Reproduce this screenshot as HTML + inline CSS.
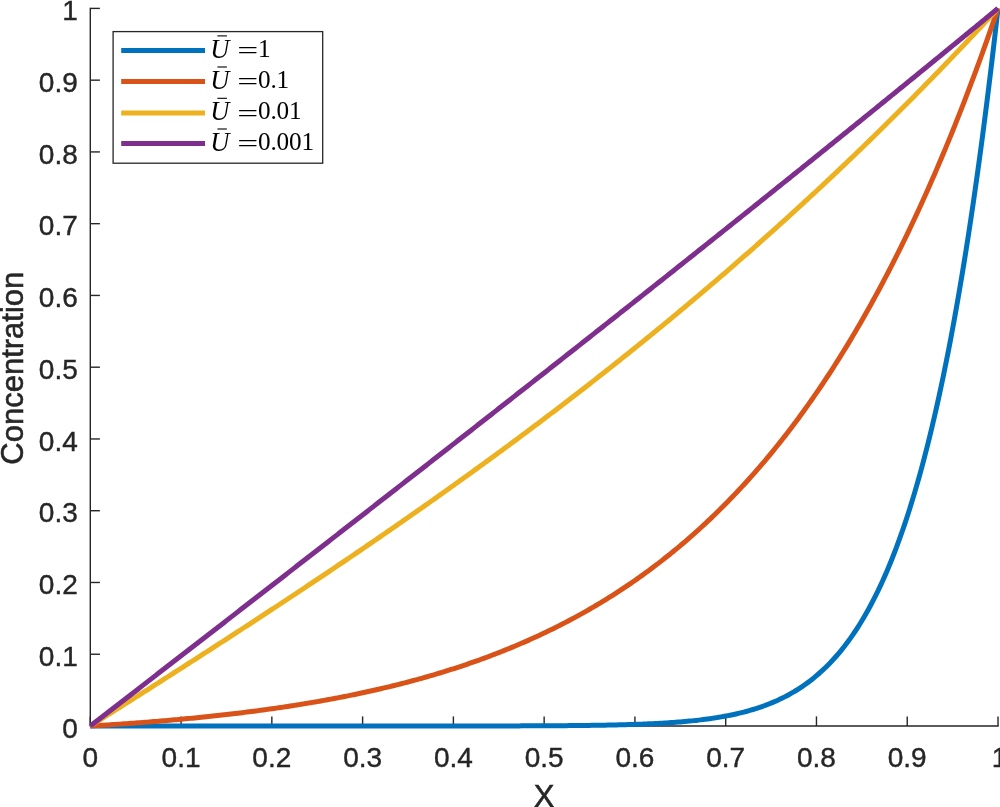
<!DOCTYPE html>
<html lang="en"><head><meta charset="utf-8"><title>Concentration vs X</title>
<style>html,body{margin:0;padding:0;background:#fff}svg{display:block}</style></head>
<body>
<svg width="1000" height="807" viewBox="0 0 1000 807">
<rect width="1000" height="807" fill="#fff"/>
<g stroke="#262626" stroke-width="1.4" fill="none">
<path d="M90.30 7.70V726.00H998.70"/>
<path d="M90.30 726.00V716.40"/>
<path d="M90.30 726.00H99.90"/>
<path d="M181.07 726.00V716.40"/>
<path d="M90.30 654.24H99.90"/>
<path d="M271.84 726.00V716.40"/>
<path d="M90.30 582.48H99.90"/>
<path d="M362.61 726.00V716.40"/>
<path d="M90.30 510.72H99.90"/>
<path d="M453.38 726.00V716.40"/>
<path d="M90.30 438.96H99.90"/>
<path d="M544.15 726.00V716.40"/>
<path d="M90.30 367.20H99.90"/>
<path d="M634.92 726.00V716.40"/>
<path d="M90.30 295.44H99.90"/>
<path d="M725.69 726.00V716.40"/>
<path d="M90.30 223.68H99.90"/>
<path d="M816.46 726.00V716.40"/>
<path d="M90.30 151.92H99.90"/>
<path d="M907.23 726.00V716.40"/>
<path d="M90.30 80.16H99.90"/>
<path d="M998.00 726.00V716.40"/>
<path d="M90.30 8.40H99.90"/>
</g>
<g font-family="'Liberation Sans', sans-serif" font-size="28" fill="#262626" stroke="#262626" stroke-width="0.4">
<text x="90.30" y="767.00" text-anchor="middle">0</text>
<text x="181.07" y="767.00" text-anchor="middle">0.1</text>
<text x="271.84" y="767.00" text-anchor="middle">0.2</text>
<text x="362.61" y="767.00" text-anchor="middle">0.3</text>
<text x="453.38" y="767.00" text-anchor="middle">0.4</text>
<text x="544.15" y="767.00" text-anchor="middle">0.5</text>
<text x="634.92" y="767.00" text-anchor="middle">0.6</text>
<text x="725.69" y="767.00" text-anchor="middle">0.7</text>
<text x="816.46" y="767.00" text-anchor="middle">0.8</text>
<text x="907.23" y="767.00" text-anchor="middle">0.9</text>
<text x="999.50" y="767.00" text-anchor="middle">1</text>
<text x="77.80" y="737.60" text-anchor="end">0</text>
<text x="77.80" y="665.84" text-anchor="end">0.1</text>
<text x="77.80" y="594.08" text-anchor="end">0.2</text>
<text x="77.80" y="522.32" text-anchor="end">0.3</text>
<text x="77.80" y="450.56" text-anchor="end">0.4</text>
<text x="77.80" y="378.80" text-anchor="end">0.5</text>
<text x="77.80" y="307.04" text-anchor="end">0.6</text>
<text x="77.80" y="235.28" text-anchor="end">0.7</text>
<text x="77.80" y="163.52" text-anchor="end">0.8</text>
<text x="77.80" y="91.76" text-anchor="end">0.9</text>
<text x="77.80" y="20.00" text-anchor="end">1</text>
</g>
<g font-family="'Liberation Sans', sans-serif" font-size="31" fill="#262626" stroke="#262626" stroke-width="0.55">
<text x="544.00" y="807.00" text-anchor="middle">X</text>
<text transform="translate(22.9 368.2) rotate(-90)" text-anchor="middle">Concentration</text>
</g>
<polyline points="90.30,726.00 92.57,726.00 94.84,726.00 97.11,726.00 99.38,726.00 101.65,726.00 103.92,726.00 106.18,726.00 108.45,726.00 110.72,726.00 112.99,726.00 115.26,726.00 117.53,726.00 119.80,726.00 122.07,726.00 124.34,726.00 126.61,726.00 128.88,726.00 131.15,726.00 133.42,726.00 135.69,726.00 137.95,726.00 140.22,726.00 142.49,726.00 144.76,726.00 147.03,726.00 149.30,726.00 151.57,726.00 153.84,726.00 156.11,726.00 158.38,726.00 160.65,726.00 162.92,726.00 165.19,726.00 167.45,726.00 169.72,726.00 171.99,726.00 174.26,726.00 176.53,726.00 178.80,726.00 181.07,726.00 183.34,726.00 185.61,726.00 187.88,726.00 190.15,726.00 192.42,726.00 194.69,726.00 196.95,726.00 199.22,726.00 201.49,726.00 203.76,726.00 206.03,726.00 208.30,726.00 210.57,726.00 212.84,726.00 215.11,726.00 217.38,726.00 219.65,726.00 221.92,726.00 224.19,726.00 226.45,726.00 228.72,726.00 230.99,726.00 233.26,726.00 235.53,726.00 237.80,726.00 240.07,726.00 242.34,726.00 244.61,726.00 246.88,726.00 249.15,726.00 251.42,726.00 253.69,726.00 255.96,726.00 258.22,726.00 260.49,726.00 262.76,726.00 265.03,726.00 267.30,726.00 269.57,726.00 271.84,726.00 274.11,726.00 276.38,726.00 278.65,726.00 280.92,726.00 283.19,726.00 285.46,726.00 287.72,726.00 289.99,726.00 292.26,726.00 294.53,726.00 296.80,726.00 299.07,726.00 301.34,726.00 303.61,726.00 305.88,726.00 308.15,726.00 310.42,726.00 312.69,726.00 314.96,726.00 317.23,726.00 319.49,726.00 321.76,726.00 324.03,726.00 326.30,726.00 328.57,726.00 330.84,726.00 333.11,726.00 335.38,726.00 337.65,726.00 339.92,726.00 342.19,726.00 344.46,726.00 346.73,726.00 348.99,726.00 351.26,726.00 353.53,726.00 355.80,726.00 358.07,726.00 360.34,726.00 362.61,726.00 364.88,726.00 367.15,726.00 369.42,726.00 371.69,726.00 373.96,726.00 376.23,726.00 378.49,726.00 380.76,726.00 383.03,726.00 385.30,726.00 387.57,726.00 389.84,726.00 392.11,726.00 394.38,725.99 396.65,725.99 398.92,725.99 401.19,725.99 403.46,725.99 405.73,725.99 408.00,725.99 410.26,725.99 412.53,725.99 414.80,725.99 417.07,725.99 419.34,725.99 421.61,725.99 423.88,725.99 426.15,725.99 428.42,725.99 430.69,725.99 432.96,725.99 435.23,725.99 437.50,725.98 439.76,725.98 442.03,725.98 444.30,725.98 446.57,725.98 448.84,725.98 451.11,725.98 453.38,725.98 455.65,725.98 457.92,725.97 460.19,725.97 462.46,725.97 464.73,725.97 467.00,725.97 469.26,725.96 471.53,725.96 473.80,725.96 476.07,725.96 478.34,725.96 480.61,725.95 482.88,725.95 485.15,725.95 487.42,725.94 489.69,725.94 491.96,725.94 494.23,725.93 496.50,725.93 498.77,725.93 501.03,725.92 503.30,725.92 505.57,725.91 507.84,725.91 510.11,725.90 512.38,725.90 514.65,725.89 516.92,725.89 519.19,725.88 521.46,725.87 523.73,725.87 526.00,725.86 528.27,725.85 530.53,725.84 532.80,725.84 535.07,725.83 537.34,725.82 539.61,725.81 541.88,725.80 544.15,725.79 546.42,725.77 548.69,725.76 550.96,725.75 553.23,725.74 555.50,725.72 557.77,725.71 560.03,725.69 562.30,725.67 564.57,725.66 566.84,725.64 569.11,725.62 571.38,725.60 573.65,725.58 575.92,725.56 578.19,725.53 580.46,725.51 582.73,725.48 585.00,725.46 587.27,725.43 589.54,725.40 591.80,725.37 594.07,725.33 596.34,725.30 598.61,725.26 600.88,725.23 603.15,725.19 605.42,725.15 607.69,725.10 609.96,725.06 612.23,725.01 614.50,724.96 616.77,724.91 619.04,724.85 621.30,724.80 623.57,724.74 625.84,724.67 628.11,724.61 630.38,724.54 632.65,724.47 634.92,724.39 637.19,724.31 639.46,724.23 641.73,724.14 644.00,724.05 646.27,723.96 648.54,723.86 650.80,723.76 653.07,723.65 655.34,723.53 657.61,723.42 659.88,723.29 662.15,723.16 664.42,723.03 666.69,722.89 668.96,722.74 671.23,722.59 673.50,722.43 675.77,722.26 678.04,722.09 680.30,721.90 682.57,721.71 684.84,721.52 687.11,721.31 689.38,721.09 691.65,720.87 693.92,720.63 696.19,720.39 698.46,720.13 700.73,719.86 703.00,719.59 705.27,719.30 707.54,718.99 709.81,718.68 712.07,718.35 714.34,718.01 716.61,717.65 718.88,717.28 721.15,716.90 723.42,716.49 725.69,716.08 727.96,715.64 730.23,715.19 732.50,714.72 734.77,714.22 737.04,713.71 739.31,713.18 741.57,712.63 743.84,712.05 746.11,711.46 748.38,710.83 750.65,710.19 752.92,709.52 755.19,708.82 757.46,708.09 759.73,707.34 762.00,706.55 764.27,705.74 766.54,704.89 768.81,704.02 771.08,703.11 773.34,702.16 775.61,701.18 777.88,700.16 780.15,699.10 782.42,698.00 784.69,696.86 786.96,695.68 789.23,694.45 791.50,693.18 793.77,691.86 796.04,690.49 798.31,689.07 800.58,687.60 802.84,686.08 805.11,684.50 807.38,682.86 809.65,681.17 811.92,679.41 814.19,677.59 816.46,675.70 818.73,673.75 821.00,671.73 823.27,669.64 825.54,667.48 827.81,665.24 830.08,662.92 832.34,660.52 834.61,658.04 836.88,655.47 839.15,652.81 841.42,650.07 843.69,647.23 845.96,644.29 848.23,641.25 850.50,638.12 852.77,634.87 855.04,631.52 857.31,628.06 859.58,624.49 861.85,620.79 864.11,616.98 866.38,613.04 868.65,608.98 870.92,604.78 873.19,600.44 875.46,595.97 877.73,591.36 880.00,586.59 882.27,581.68 884.54,576.61 886.81,571.39 889.08,566.00 891.35,560.44 893.61,554.71 895.88,548.80 898.15,542.72 900.42,536.44 902.69,529.98 904.96,523.32 907.23,516.46 909.50,509.39 911.77,502.12 914.04,494.63 916.31,486.91 918.58,478.97 920.85,470.80 923.11,462.39 925.38,453.73 927.65,444.83 929.92,435.66 932.19,426.24 934.46,416.55 936.73,406.59 939.00,396.34 941.27,385.81 943.54,374.98 945.81,363.86 948.08,352.43 950.35,340.68 952.62,328.61 954.88,316.22 957.15,303.49 959.42,290.42 961.69,277.00 963.96,263.22 966.23,249.08 968.50,234.56 970.77,219.67 973.04,204.39 975.31,188.71 977.58,172.63 979.85,156.14 982.12,139.23 984.38,121.89 986.65,104.11 988.92,85.89 991.19,67.22 993.46,48.09 995.73,28.48 998.00,8.40" fill="none" stroke="#0072BD" stroke-width="5" stroke-linejoin="round"/>
<polyline points="90.30,726.00 92.57,725.87 94.84,725.73 97.11,725.59 99.38,725.45 101.65,725.31 103.92,725.17 106.18,725.02 108.45,724.88 110.72,724.73 112.99,724.58 115.26,724.43 117.53,724.28 119.80,724.12 122.07,723.97 124.34,723.81 126.61,723.65 128.88,723.49 131.15,723.33 133.42,723.16 135.69,722.99 137.95,722.82 140.22,722.65 142.49,722.48 144.76,722.31 147.03,722.13 149.30,721.95 151.57,721.77 153.84,721.59 156.11,721.40 158.38,721.22 160.65,721.03 162.92,720.84 165.19,720.65 167.45,720.45 169.72,720.25 171.99,720.05 174.26,719.85 176.53,719.65 178.80,719.44 181.07,719.23 183.34,719.02 185.61,718.81 187.88,718.60 190.15,718.38 192.42,718.16 194.69,717.94 196.95,717.71 199.22,717.48 201.49,717.25 203.76,717.02 206.03,716.79 208.30,716.55 210.57,716.31 212.84,716.07 215.11,715.82 217.38,715.57 219.65,715.32 221.92,715.07 224.19,714.81 226.45,714.55 228.72,714.29 230.99,714.03 233.26,713.76 235.53,713.49 237.80,713.22 240.07,712.94 242.34,712.66 244.61,712.38 246.88,712.10 249.15,711.81 251.42,711.52 253.69,711.22 255.96,710.93 258.22,710.63 260.49,710.32 262.76,710.02 265.03,709.71 267.30,709.39 269.57,709.08 271.84,708.76 274.11,708.43 276.38,708.11 278.65,707.78 280.92,707.44 283.19,707.10 285.46,706.76 287.72,706.42 289.99,706.07 292.26,705.72 294.53,705.36 296.80,705.00 299.07,704.64 301.34,704.27 303.61,703.90 305.88,703.53 308.15,703.15 310.42,702.77 312.69,702.38 314.96,701.99 317.23,701.60 319.49,701.20 321.76,700.79 324.03,700.39 326.30,699.98 328.57,699.56 330.84,699.14 333.11,698.72 335.38,698.29 337.65,697.86 339.92,697.42 342.19,696.98 344.46,696.53 346.73,696.08 348.99,695.62 351.26,695.16 353.53,694.70 355.80,694.23 358.07,693.75 360.34,693.27 362.61,692.79 364.88,692.30 367.15,691.80 369.42,691.30 371.69,690.80 373.96,690.29 376.23,689.77 378.49,689.25 380.76,688.73 383.03,688.19 385.30,687.66 387.57,687.11 389.84,686.57 392.11,686.01 394.38,685.46 396.65,684.89 398.92,684.32 401.19,683.74 403.46,683.16 405.73,682.57 408.00,681.98 410.26,681.38 412.53,680.77 414.80,680.16 417.07,679.54 419.34,678.92 421.61,678.29 423.88,677.65 426.15,677.01 428.42,676.36 430.69,675.70 432.96,675.04 435.23,674.37 437.50,673.69 439.76,673.01 442.03,672.32 444.30,671.62 446.57,670.92 448.84,670.21 451.11,669.49 453.38,668.77 455.65,668.03 457.92,667.29 460.19,666.55 462.46,665.79 464.73,665.03 467.00,664.26 469.26,663.48 471.53,662.70 473.80,661.90 476.07,661.10 478.34,660.29 480.61,659.48 482.88,658.65 485.15,657.82 487.42,656.98 489.69,656.13 491.96,655.27 494.23,654.41 496.50,653.53 498.77,652.65 501.03,651.75 503.30,650.85 505.57,649.94 507.84,649.03 510.11,648.10 512.38,647.16 514.65,646.21 516.92,645.26 519.19,644.29 521.46,643.32 523.73,642.34 526.00,641.34 528.27,640.34 530.53,639.33 532.80,638.30 535.07,637.27 537.34,636.23 539.61,635.18 541.88,634.11 544.15,633.04 546.42,631.96 548.69,630.86 550.96,629.76 553.23,628.64 555.50,627.51 557.77,626.38 560.03,625.23 562.30,624.07 564.57,622.90 566.84,621.71 569.11,620.52 571.38,619.32 573.65,618.10 575.92,616.87 578.19,615.63 580.46,614.38 582.73,613.11 585.00,611.84 587.27,610.55 589.54,609.25 591.80,607.93 594.07,606.61 596.34,605.27 598.61,603.92 600.88,602.55 603.15,601.17 605.42,599.78 607.69,598.38 609.96,596.96 612.23,595.53 614.50,594.08 616.77,592.63 619.04,591.15 621.30,589.67 623.57,588.17 625.84,586.65 628.11,585.12 630.38,583.58 632.65,582.02 634.92,580.45 637.19,578.86 639.46,577.25 641.73,575.63 644.00,574.00 646.27,572.35 648.54,570.69 650.80,569.01 653.07,567.31 655.34,565.60 657.61,563.87 659.88,562.12 662.15,560.36 664.42,558.58 666.69,556.79 668.96,554.98 671.23,553.15 673.50,551.30 675.77,549.44 678.04,547.56 680.30,545.66 682.57,543.74 684.84,541.81 687.11,539.86 689.38,537.89 691.65,535.90 693.92,533.89 696.19,531.87 698.46,529.82 700.73,527.76 703.00,525.67 705.27,523.57 707.54,521.45 709.81,519.31 712.07,517.14 714.34,514.96 716.61,512.76 718.88,510.54 721.15,508.29 723.42,506.03 725.69,503.75 727.96,501.44 730.23,499.11 732.50,496.76 734.77,494.39 737.04,492.00 739.31,489.58 741.57,487.15 743.84,484.69 746.11,482.21 748.38,479.70 750.65,477.17 752.92,474.62 755.19,472.05 757.46,469.45 759.73,466.83 762.00,464.18 764.27,461.51 766.54,458.82 768.81,456.10 771.08,453.35 773.34,450.58 775.61,447.79 777.88,444.97 780.15,442.12 782.42,439.25 784.69,436.35 786.96,433.42 789.23,430.47 791.50,427.49 793.77,424.49 796.04,421.46 798.31,418.40 800.58,415.31 802.84,412.19 805.11,409.05 807.38,405.87 809.65,402.67 811.92,399.44 814.19,396.18 816.46,392.89 818.73,389.57 821.00,386.23 823.27,382.85 825.54,379.44 827.81,376.00 830.08,372.52 832.34,369.02 834.61,365.49 836.88,361.92 839.15,358.32 841.42,354.69 843.69,351.03 845.96,347.33 848.23,343.60 850.50,339.84 852.77,336.05 855.04,332.22 857.31,328.35 859.58,324.45 861.85,320.52 864.11,316.55 866.38,312.54 868.65,308.50 870.92,304.43 873.19,300.32 875.46,296.17 877.73,291.98 880.00,287.76 882.27,283.50 884.54,279.20 886.81,274.86 889.08,270.49 891.35,266.07 893.61,261.62 895.88,257.13 898.15,252.59 900.42,248.02 902.69,243.41 904.96,238.76 907.23,234.06 909.50,229.33 911.77,224.55 914.04,219.73 916.31,214.86 918.58,209.96 920.85,205.01 923.11,200.02 925.38,194.98 927.65,189.90 929.92,184.78 932.19,179.61 934.46,174.39 936.73,169.13 939.00,163.83 941.27,158.47 943.54,153.07 945.81,147.63 948.08,142.13 950.35,136.59 952.62,131.00 954.88,125.36 957.15,119.67 959.42,113.93 961.69,108.14 963.96,102.31 966.23,96.42 968.50,90.48 970.77,84.48 973.04,78.44 975.31,72.34 977.58,66.19 979.85,59.99 982.12,53.73 984.38,47.42 986.65,41.06 988.92,34.64 991.19,28.16 993.46,21.63 995.73,15.04 998.00,8.40" fill="none" stroke="#D95319" stroke-width="5" stroke-linejoin="round"/>
<polyline points="90.30,726.00 92.57,724.56 94.84,723.13 97.11,721.69 99.38,720.26 101.65,718.82 103.92,717.38 106.18,715.95 108.45,714.51 110.72,713.07 112.99,711.63 115.26,710.20 117.53,708.76 119.80,707.32 122.07,705.88 124.34,704.44 126.61,703.00 128.88,701.56 131.15,700.12 133.42,698.68 135.69,697.24 137.95,695.79 140.22,694.35 142.49,692.91 144.76,691.46 147.03,690.02 149.30,688.57 151.57,687.13 153.84,685.68 156.11,684.24 158.38,682.79 160.65,681.34 162.92,679.89 165.19,678.45 167.45,677.00 169.72,675.55 171.99,674.10 174.26,672.64 176.53,671.19 178.80,669.74 181.07,668.29 183.34,666.83 185.61,665.38 187.88,663.92 190.15,662.47 192.42,661.01 194.69,659.55 196.95,658.09 199.22,656.64 201.49,655.18 203.76,653.71 206.03,652.25 208.30,650.79 210.57,649.33 212.84,647.86 215.11,646.40 217.38,644.93 219.65,643.47 221.92,642.00 224.19,640.53 226.45,639.06 228.72,637.59 230.99,636.12 233.26,634.65 235.53,633.17 237.80,631.70 240.07,630.22 242.34,628.75 244.61,627.27 246.88,625.79 249.15,624.31 251.42,622.83 253.69,621.35 255.96,619.87 258.22,618.39 260.49,616.90 262.76,615.42 265.03,613.93 267.30,612.44 269.57,610.95 271.84,609.46 274.11,607.97 276.38,606.48 278.65,604.98 280.92,603.49 283.19,601.99 285.46,600.50 287.72,599.00 289.99,597.50 292.26,596.00 294.53,594.49 296.80,592.99 299.07,591.48 301.34,589.98 303.61,588.47 305.88,586.96 308.15,585.45 310.42,583.94 312.69,582.43 314.96,580.91 317.23,579.40 319.49,577.88 321.76,576.36 324.03,574.84 326.30,573.32 328.57,571.80 330.84,570.27 333.11,568.75 335.38,567.22 337.65,565.69 339.92,564.16 342.19,562.63 344.46,561.09 346.73,559.56 348.99,558.02 351.26,556.48 353.53,554.95 355.80,553.40 358.07,551.86 360.34,550.32 362.61,548.77 364.88,547.22 367.15,545.67 369.42,544.12 371.69,542.57 373.96,541.02 376.23,539.46 378.49,537.90 380.76,536.34 383.03,534.78 385.30,533.22 387.57,531.65 389.84,530.09 392.11,528.52 394.38,526.95 396.65,525.38 398.92,523.80 401.19,522.23 403.46,520.65 405.73,519.07 408.00,517.49 410.26,515.91 412.53,514.32 414.80,512.74 417.07,511.15 419.34,509.56 421.61,507.96 423.88,506.37 426.15,504.77 428.42,503.18 430.69,501.57 432.96,499.97 435.23,498.37 437.50,496.76 439.76,495.15 442.03,493.54 444.30,491.93 446.57,490.32 448.84,488.70 451.11,487.08 453.38,485.46 455.65,483.84 457.92,482.21 460.19,480.59 462.46,478.96 464.73,477.33 467.00,475.69 469.26,474.06 471.53,472.42 473.80,470.78 476.07,469.14 478.34,467.49 480.61,465.84 482.88,464.19 485.15,462.54 487.42,460.89 489.69,459.23 491.96,457.58 494.23,455.92 496.50,454.25 498.77,452.59 501.03,450.92 503.30,449.25 505.57,447.58 507.84,445.90 510.11,444.23 512.38,442.55 514.65,440.87 516.92,439.18 519.19,437.49 521.46,435.81 523.73,434.11 526.00,432.42 528.27,430.72 530.53,429.02 532.80,427.32 535.07,425.62 537.34,423.91 539.61,422.20 541.88,420.49 544.15,418.78 546.42,417.06 548.69,415.34 550.96,413.62 553.23,411.89 555.50,410.17 557.77,408.44 560.03,406.71 562.30,404.97 564.57,403.23 566.84,401.49 569.11,399.75 571.38,398.00 573.65,396.25 575.92,394.50 578.19,392.75 580.46,390.99 582.73,389.23 585.00,387.47 587.27,385.70 589.54,383.94 591.80,382.16 594.07,380.39 596.34,378.61 598.61,376.84 600.88,375.05 603.15,373.27 605.42,371.48 607.69,369.69 609.96,367.90 612.23,366.10 614.50,364.30 616.77,362.50 619.04,360.69 621.30,358.88 623.57,357.07 625.84,355.26 628.11,353.44 630.38,351.62 632.65,349.79 634.92,347.97 637.19,346.14 639.46,344.31 641.73,342.47 644.00,340.63 646.27,338.79 648.54,336.94 650.80,335.10 653.07,333.25 655.34,331.39 657.61,329.53 659.88,327.67 662.15,325.81 664.42,323.94 666.69,322.07 668.96,320.20 671.23,318.32 673.50,316.44 675.77,314.56 678.04,312.67 680.30,310.78 682.57,308.89 684.84,306.99 687.11,305.09 689.38,303.19 691.65,301.28 693.92,299.37 696.19,297.46 698.46,295.54 700.73,293.62 703.00,291.70 705.27,289.77 707.54,287.84 709.81,285.91 712.07,283.97 714.34,282.03 716.61,280.09 718.88,278.14 721.15,276.19 723.42,274.24 725.69,272.28 727.96,270.32 730.23,268.35 732.50,266.39 734.77,264.41 737.04,262.44 739.31,260.46 741.57,258.48 743.84,256.49 746.11,254.50 748.38,252.51 750.65,250.51 752.92,248.51 755.19,246.50 757.46,244.50 759.73,242.48 762.00,240.47 764.27,238.45 766.54,236.43 768.81,234.40 771.08,232.37 773.34,230.34 775.61,228.30 777.88,226.26 780.15,224.21 782.42,222.16 784.69,220.11 786.96,218.05 789.23,215.99 791.50,213.93 793.77,211.86 796.04,209.78 798.31,207.71 800.58,205.63 802.84,203.54 805.11,201.46 807.38,199.36 809.65,197.27 811.92,195.17 814.19,193.07 816.46,190.96 818.73,188.85 821.00,186.73 823.27,184.61 825.54,182.49 827.81,180.36 830.08,178.23 832.34,176.09 834.61,173.95 836.88,171.81 839.15,169.66 841.42,167.51 843.69,165.35 845.96,163.19 848.23,161.02 850.50,158.86 852.77,156.68 855.04,154.51 857.31,152.32 859.58,150.14 861.85,147.95 864.11,145.75 866.38,143.56 868.65,141.35 870.92,139.15 873.19,136.94 875.46,134.72 877.73,132.50 880.00,130.28 882.27,128.05 884.54,125.82 886.81,123.58 889.08,121.34 891.35,119.09 893.61,116.84 895.88,114.59 898.15,112.33 900.42,110.07 902.69,107.80 904.96,105.53 907.23,103.25 909.50,100.97 911.77,98.68 914.04,96.39 916.31,94.10 918.58,91.80 920.85,89.50 923.11,87.19 925.38,84.87 927.65,82.56 929.92,80.24 932.19,77.91 934.46,75.58 936.73,73.24 939.00,70.90 941.27,68.56 943.54,66.21 945.81,63.85 948.08,61.50 950.35,59.13 952.62,56.76 954.88,54.39 957.15,52.01 959.42,49.63 961.69,47.24 963.96,44.85 966.23,42.46 968.50,40.06 970.77,37.65 973.04,35.24 975.31,32.82 977.58,30.40 979.85,27.98 982.12,25.55 984.38,23.11 986.65,20.67 988.92,18.23 991.19,15.78 993.46,13.32 995.73,10.86 998.00,8.40" fill="none" stroke="#EDB120" stroke-width="5" stroke-linejoin="round"/>
<polyline points="90.30,726.00 92.57,724.25 94.84,722.49 97.11,720.74 99.38,718.98 101.65,717.23 103.92,715.47 106.18,713.72 108.45,711.96 110.72,710.21 112.99,708.45 115.26,706.70 117.53,704.94 119.80,703.19 122.07,701.43 124.34,699.68 126.61,697.92 128.88,696.17 131.15,694.41 133.42,692.66 135.69,690.90 137.95,689.15 140.22,687.39 142.49,685.64 144.76,683.88 147.03,682.13 149.30,680.37 151.57,678.62 153.84,676.86 156.11,675.11 158.38,673.35 160.65,671.59 162.92,669.84 165.19,668.08 167.45,666.33 169.72,664.57 171.99,662.81 174.26,661.06 176.53,659.30 178.80,657.55 181.07,655.79 183.34,654.03 185.61,652.28 187.88,650.52 190.15,648.76 192.42,647.01 194.69,645.25 196.95,643.49 199.22,641.74 201.49,639.98 203.76,638.22 206.03,636.47 208.30,634.71 210.57,632.95 212.84,631.19 215.11,629.44 217.38,627.68 219.65,625.92 221.92,624.16 224.19,622.41 226.45,620.65 228.72,618.89 230.99,617.13 233.26,615.37 235.53,613.61 237.80,611.86 240.07,610.10 242.34,608.34 244.61,606.58 246.88,604.82 249.15,603.06 251.42,601.30 253.69,599.54 255.96,597.78 258.22,596.02 260.49,594.27 262.76,592.51 265.03,590.75 267.30,588.99 269.57,587.23 271.84,585.47 274.11,583.70 276.38,581.94 278.65,580.18 280.92,578.42 283.19,576.66 285.46,574.90 287.72,573.14 289.99,571.38 292.26,569.62 294.53,567.86 296.80,566.09 299.07,564.33 301.34,562.57 303.61,560.81 305.88,559.05 308.15,557.28 310.42,555.52 312.69,553.76 314.96,552.00 317.23,550.23 319.49,548.47 321.76,546.71 324.03,544.94 326.30,543.18 328.57,541.42 330.84,539.65 333.11,537.89 335.38,536.12 337.65,534.36 339.92,532.59 342.19,530.83 344.46,529.06 346.73,527.30 348.99,525.53 351.26,523.77 353.53,522.00 355.80,520.24 358.07,518.47 360.34,516.71 362.61,514.94 364.88,513.17 367.15,511.41 369.42,509.64 371.69,507.87 373.96,506.11 376.23,504.34 378.49,502.57 380.76,500.80 383.03,499.03 385.30,497.27 387.57,495.50 389.84,493.73 392.11,491.96 394.38,490.19 396.65,488.42 398.92,486.65 401.19,484.88 403.46,483.11 405.73,481.34 408.00,479.57 410.26,477.80 412.53,476.03 414.80,474.26 417.07,472.49 419.34,470.72 421.61,468.95 423.88,467.18 426.15,465.41 428.42,463.63 430.69,461.86 432.96,460.09 435.23,458.32 437.50,456.54 439.76,454.77 442.03,453.00 444.30,451.22 446.57,449.45 448.84,447.68 451.11,445.90 453.38,444.13 455.65,442.35 457.92,440.58 460.19,438.80 462.46,437.03 464.73,435.25 467.00,433.47 469.26,431.70 471.53,429.92 473.80,428.15 476.07,426.37 478.34,424.59 480.61,422.81 482.88,421.04 485.15,419.26 487.42,417.48 489.69,415.70 491.96,413.92 494.23,412.14 496.50,410.37 498.77,408.59 501.03,406.81 503.30,405.03 505.57,403.25 507.84,401.47 510.11,399.68 512.38,397.90 514.65,396.12 516.92,394.34 519.19,392.56 521.46,390.78 523.73,388.99 526.00,387.21 528.27,385.43 530.53,383.65 532.80,381.86 535.07,380.08 537.34,378.29 539.61,376.51 541.88,374.73 544.15,372.94 546.42,371.16 548.69,369.37 550.96,367.58 553.23,365.80 555.50,364.01 557.77,362.23 560.03,360.44 562.30,358.65 564.57,356.86 566.84,355.08 569.11,353.29 571.38,351.50 573.65,349.71 575.92,347.92 578.19,346.13 580.46,344.34 582.73,342.55 585.00,340.76 587.27,338.97 589.54,337.18 591.80,335.39 594.07,333.60 596.34,331.81 598.61,330.01 600.88,328.22 603.15,326.43 605.42,324.64 607.69,322.84 609.96,321.05 612.23,319.25 614.50,317.46 616.77,315.67 619.04,313.87 621.30,312.08 623.57,310.28 625.84,308.48 628.11,306.69 630.38,304.89 632.65,303.09 634.92,301.30 637.19,299.50 639.46,297.70 641.73,295.90 644.00,294.10 646.27,292.30 648.54,290.50 650.80,288.70 653.07,286.90 655.34,285.10 657.61,283.30 659.88,281.50 662.15,279.70 664.42,277.90 666.69,276.10 668.96,274.29 671.23,272.49 673.50,270.69 675.77,268.88 678.04,267.08 680.30,265.27 682.57,263.47 684.84,261.66 687.11,259.86 689.38,258.05 691.65,256.25 693.92,254.44 696.19,252.63 698.46,250.82 700.73,249.02 703.00,247.21 705.27,245.40 707.54,243.59 709.81,241.78 712.07,239.97 714.34,238.16 716.61,236.35 718.88,234.54 721.15,232.73 723.42,230.92 725.69,229.11 727.96,227.29 730.23,225.48 732.50,223.67 734.77,221.85 737.04,220.04 739.31,218.22 741.57,216.41 743.84,214.59 746.11,212.78 748.38,210.96 750.65,209.15 752.92,207.33 755.19,205.51 757.46,203.69 759.73,201.88 762.00,200.06 764.27,198.24 766.54,196.42 768.81,194.60 771.08,192.78 773.34,190.96 775.61,189.14 777.88,187.32 780.15,185.49 782.42,183.67 784.69,181.85 786.96,180.02 789.23,178.20 791.50,176.38 793.77,174.55 796.04,172.73 798.31,170.90 800.58,169.08 802.84,167.25 805.11,165.42 807.38,163.60 809.65,161.77 811.92,159.94 814.19,158.11 816.46,156.28 818.73,154.45 821.00,152.62 823.27,150.79 825.54,148.96 827.81,147.13 830.08,145.30 832.34,143.47 834.61,141.64 836.88,139.80 839.15,137.97 841.42,136.13 843.69,134.30 845.96,132.47 848.23,130.63 850.50,128.79 852.77,126.96 855.04,125.12 857.31,123.28 859.58,121.45 861.85,119.61 864.11,117.77 866.38,115.93 868.65,114.09 870.92,112.25 873.19,110.41 875.46,108.57 877.73,106.73 880.00,104.89 882.27,103.04 884.54,101.20 886.81,99.36 889.08,97.51 891.35,95.67 893.61,93.82 895.88,91.98 898.15,90.13 900.42,88.29 902.69,86.44 904.96,84.59 907.23,82.74 909.50,80.89 911.77,79.05 914.04,77.20 916.31,75.35 918.58,73.50 920.85,71.65 923.11,69.79 925.38,67.94 927.65,66.09 929.92,64.24 932.19,62.38 934.46,60.53 936.73,58.67 939.00,56.82 941.27,54.96 943.54,53.11 945.81,51.25 948.08,49.39 950.35,47.54 952.62,45.68 954.88,43.82 957.15,41.96 959.42,40.10 961.69,38.24 963.96,36.38 966.23,34.52 968.50,32.66 970.77,30.79 973.04,28.93 975.31,27.07 977.58,25.20 979.85,23.34 982.12,21.47 984.38,19.61 986.65,17.74 988.92,15.87 991.19,14.01 993.46,12.14 995.73,10.27 998.00,8.40" fill="none" stroke="#7E2F8E" stroke-width="5" stroke-linejoin="round"/>
<rect x="113.1" y="31.6" width="209.6" height="131.6" fill="#fff" stroke="#262626" stroke-width="1.3"/>
<path d="M121.2 50.50H205" stroke="#0072BD" stroke-width="5" fill="none"/>
<g font-family="'Liberation Serif', serif" fill="#000">
<text x="210.2" y="57.70" font-size="26.5" font-style="italic">U</text>
<path d="M217.4 35.90H226.9" stroke="#000" stroke-width="1.1"/>
<text transform="translate(237.3 59.30) scale(1.52 1)" font-size="24.5">=</text>
<text x="257.9" y="56.70" font-size="25.2" letter-spacing="-0.1">1</text>
</g>
<path d="M121.2 81.60H205" stroke="#D95319" stroke-width="5" fill="none"/>
<g font-family="'Liberation Serif', serif" fill="#000">
<text x="210.2" y="88.80" font-size="26.5" font-style="italic">U</text>
<path d="M217.4 67.00H226.9" stroke="#000" stroke-width="1.1"/>
<text transform="translate(237.3 90.40) scale(1.52 1)" font-size="24.5">=</text>
<text x="257.9" y="87.80" font-size="25.2" letter-spacing="-0.1">0.1</text>
</g>
<path d="M121.2 112.90H205" stroke="#EDB120" stroke-width="5" fill="none"/>
<g font-family="'Liberation Serif', serif" fill="#000">
<text x="210.2" y="120.10" font-size="26.5" font-style="italic">U</text>
<path d="M217.4 98.30H226.9" stroke="#000" stroke-width="1.1"/>
<text transform="translate(237.3 121.70) scale(1.52 1)" font-size="24.5">=</text>
<text x="257.9" y="119.10" font-size="25.2" letter-spacing="-0.1">0.01</text>
</g>
<path d="M121.2 143.60H205" stroke="#7E2F8E" stroke-width="5" fill="none"/>
<g font-family="'Liberation Serif', serif" fill="#000">
<text x="210.2" y="150.80" font-size="26.5" font-style="italic">U</text>
<path d="M217.4 129.00H226.9" stroke="#000" stroke-width="1.1"/>
<text transform="translate(237.3 152.40) scale(1.52 1)" font-size="24.5">=</text>
<text x="257.9" y="149.80" font-size="25.2" letter-spacing="-0.1">0.001</text>
</g>
</svg>
</body></html>
